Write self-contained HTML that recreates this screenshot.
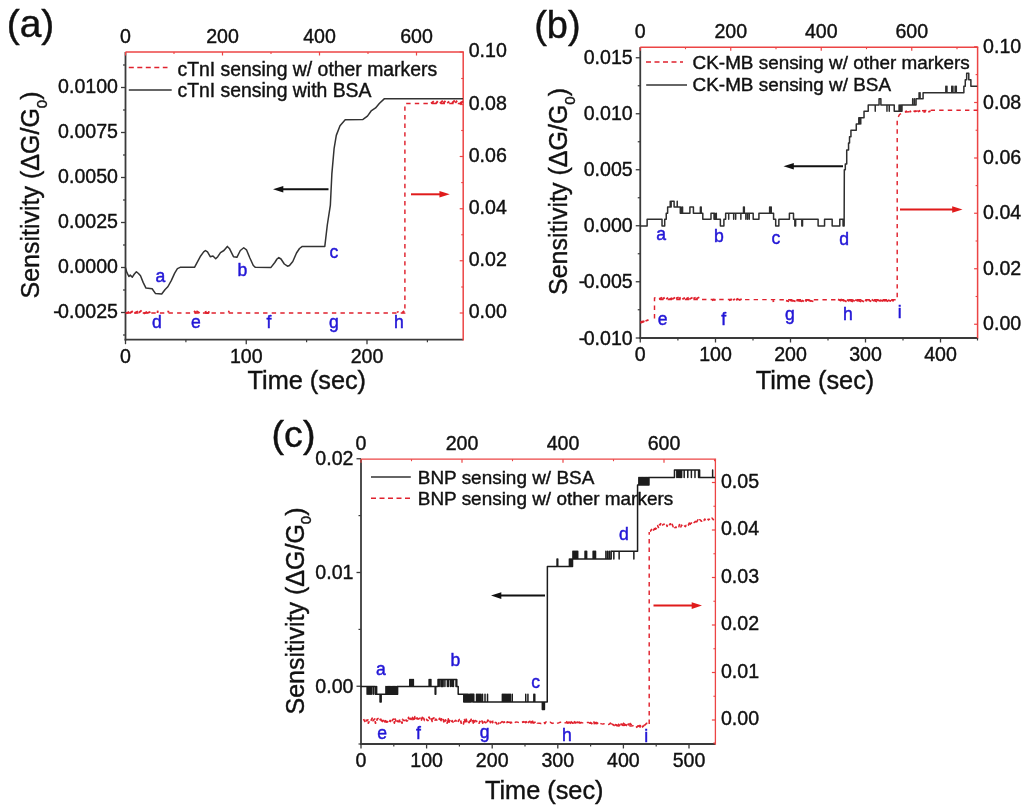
<!DOCTYPE html>
<html lang="en"><head><meta charset="utf-8"><title>Sensing figure</title>
<style>
html,body{margin:0;padding:0;background:#fff;}
body{width:1024px;height:810px;overflow:hidden;}
svg{display:block;font-family:"Liberation Sans",Arial,sans-serif;}
</style></head><body>
<svg width="1024" height="810" viewBox="0 0 1024 810">
<rect width="1024" height="810" fill="#fff"/>
<g>
<line x1="125.5" y1="52" x2="125.5" y2="340.6" stroke="#3a3a3a" stroke-width="1.8"/>
<line x1="124.6" y1="339.7" x2="463.2" y2="339.7" stroke="#3a3a3a" stroke-width="1.8"/>
<line x1="125.5" y1="52" x2="463.9" y2="52" stroke="#ec4444" stroke-width="1.5"/>
<line x1="463.2" y1="52" x2="463.2" y2="340.4" stroke="#ec4444" stroke-width="1.5"/>
<line x1="121" y1="87.5" x2="125.5" y2="87.5" stroke="#3a3a3a" stroke-width="1.3"/>
<text x="118" y="93.1" font-size="19.6" text-anchor="end" fill="#111" stroke="#111" stroke-width="0.4">0.0100</text>
<line x1="121" y1="132.5" x2="125.5" y2="132.5" stroke="#3a3a3a" stroke-width="1.3"/>
<text x="118" y="138.1" font-size="19.6" text-anchor="end" fill="#111" stroke="#111" stroke-width="0.4">0.0075</text>
<line x1="121" y1="177.5" x2="125.5" y2="177.5" stroke="#3a3a3a" stroke-width="1.3"/>
<text x="118" y="183.1" font-size="19.6" text-anchor="end" fill="#111" stroke="#111" stroke-width="0.4">0.0050</text>
<line x1="121" y1="222.5" x2="125.5" y2="222.5" stroke="#3a3a3a" stroke-width="1.3"/>
<text x="118" y="228.1" font-size="19.6" text-anchor="end" fill="#111" stroke="#111" stroke-width="0.4">0.0025</text>
<line x1="121" y1="267.5" x2="125.5" y2="267.5" stroke="#3a3a3a" stroke-width="1.3"/>
<text x="118" y="273.1" font-size="19.6" text-anchor="end" fill="#111" stroke="#111" stroke-width="0.4">0.0000</text>
<line x1="121" y1="312.5" x2="125.5" y2="312.5" stroke="#3a3a3a" stroke-width="1.3"/>
<text x="118" y="318.1" font-size="19.6" text-anchor="end" fill="#111" stroke="#111" stroke-width="0.4">-<tspan dx="-1.6">0.0025</tspan></text>
<line x1="123" y1="65" x2="125.5" y2="65" stroke="#3a3a3a" stroke-width="1.2"/>
<line x1="123" y1="110" x2="125.5" y2="110" stroke="#3a3a3a" stroke-width="1.2"/>
<line x1="123" y1="155" x2="125.5" y2="155" stroke="#3a3a3a" stroke-width="1.2"/>
<line x1="123" y1="200" x2="125.5" y2="200" stroke="#3a3a3a" stroke-width="1.2"/>
<line x1="123" y1="245" x2="125.5" y2="245" stroke="#3a3a3a" stroke-width="1.2"/>
<line x1="123" y1="290" x2="125.5" y2="290" stroke="#3a3a3a" stroke-width="1.2"/>
<line x1="123" y1="335" x2="125.5" y2="335" stroke="#3a3a3a" stroke-width="1.2"/>
<line x1="125.5" y1="339.7" x2="125.5" y2="344.2" stroke="#3a3a3a" stroke-width="1.3"/>
<text x="125.5" y="362.7" font-size="19.6" text-anchor="middle" fill="#111" stroke="#111" stroke-width="0.4">0</text>
<line x1="246.25" y1="339.7" x2="246.25" y2="344.2" stroke="#3a3a3a" stroke-width="1.3"/>
<text x="246.25" y="362.7" font-size="19.6" text-anchor="middle" fill="#111" stroke="#111" stroke-width="0.4">100</text>
<line x1="367" y1="339.7" x2="367" y2="344.2" stroke="#3a3a3a" stroke-width="1.3"/>
<text x="367" y="362.7" font-size="19.6" text-anchor="middle" fill="#111" stroke="#111" stroke-width="0.4">200</text>
<line x1="185.9" y1="339.7" x2="185.9" y2="342.2" stroke="#3a3a3a" stroke-width="1.2"/>
<line x1="306.6" y1="339.7" x2="306.6" y2="342.2" stroke="#3a3a3a" stroke-width="1.2"/>
<line x1="427.4" y1="339.7" x2="427.4" y2="342.2" stroke="#3a3a3a" stroke-width="1.2"/>
<line x1="125.5" y1="52" x2="125.5" y2="55.5" stroke="#ec4444" stroke-width="1.2"/>
<text x="125.5" y="42.5" font-size="19.6" text-anchor="middle" fill="#111" stroke="#111" stroke-width="0.4">0</text>
<line x1="222.5" y1="52" x2="222.5" y2="55.5" stroke="#ec4444" stroke-width="1.2"/>
<text x="222.5" y="42.5" font-size="19.6" text-anchor="middle" fill="#111" stroke="#111" stroke-width="0.4">200</text>
<line x1="319.5" y1="52" x2="319.5" y2="55.5" stroke="#ec4444" stroke-width="1.2"/>
<text x="319.5" y="42.5" font-size="19.6" text-anchor="middle" fill="#111" stroke="#111" stroke-width="0.4">400</text>
<line x1="416.5" y1="52" x2="416.5" y2="55.5" stroke="#ec4444" stroke-width="1.2"/>
<text x="416.5" y="42.5" font-size="19.6" text-anchor="middle" fill="#111" stroke="#111" stroke-width="0.4">600</text>
<line x1="174" y1="52" x2="174" y2="54" stroke="#ec4444" stroke-width="1.1"/>
<line x1="271" y1="52" x2="271" y2="54" stroke="#ec4444" stroke-width="1.1"/>
<line x1="368" y1="52" x2="368" y2="54" stroke="#ec4444" stroke-width="1.1"/>
<line x1="459.7" y1="52" x2="463.2" y2="52" stroke="#ec4444" stroke-width="1.2"/>
<text x="468.7" y="57.4" font-size="19.6" text-anchor="start" fill="#111" stroke="#111" stroke-width="0.4">0.10</text>
<line x1="459.7" y1="104.5" x2="463.2" y2="104.5" stroke="#ec4444" stroke-width="1.2"/>
<text x="468.7" y="109.9" font-size="19.6" text-anchor="start" fill="#111" stroke="#111" stroke-width="0.4">0.08</text>
<line x1="459.7" y1="156.5" x2="463.2" y2="156.5" stroke="#ec4444" stroke-width="1.2"/>
<text x="468.7" y="161.9" font-size="19.6" text-anchor="start" fill="#111" stroke="#111" stroke-width="0.4">0.06</text>
<line x1="459.7" y1="208.75" x2="463.2" y2="208.75" stroke="#ec4444" stroke-width="1.2"/>
<text x="468.7" y="214.15" font-size="19.6" text-anchor="start" fill="#111" stroke="#111" stroke-width="0.4">0.04</text>
<line x1="459.7" y1="260.75" x2="463.2" y2="260.75" stroke="#ec4444" stroke-width="1.2"/>
<text x="468.7" y="266.15" font-size="19.6" text-anchor="start" fill="#111" stroke="#111" stroke-width="0.4">0.02</text>
<line x1="459.7" y1="313" x2="463.2" y2="313" stroke="#ec4444" stroke-width="1.2"/>
<text x="468.7" y="318.4" font-size="19.6" text-anchor="start" fill="#111" stroke="#111" stroke-width="0.4">0.00</text>
<line x1="461.2" y1="78.5" x2="463.2" y2="78.5" stroke="#ec4444" stroke-width="1.1"/>
<line x1="461.2" y1="130.5" x2="463.2" y2="130.5" stroke="#ec4444" stroke-width="1.1"/>
<line x1="461.2" y1="182.6" x2="463.2" y2="182.6" stroke="#ec4444" stroke-width="1.1"/>
<line x1="461.2" y1="234.75" x2="463.2" y2="234.75" stroke="#ec4444" stroke-width="1.1"/>
<line x1="461.2" y1="287" x2="463.2" y2="287" stroke="#ec4444" stroke-width="1.1"/>
<text x="6.7" y="37" font-size="39" text-anchor="start" fill="#111" stroke="#111" stroke-width="0.4">(a)</text>
<text x="306.8" y="389.2" font-size="25.3" text-anchor="middle" fill="#111" stroke="#111" stroke-width="0.4">Time (sec)</text>
<text transform="translate(39 195) rotate(-90)" font-size="25" text-anchor="middle" fill="#111" stroke="#111" stroke-width="0.4">Sensitivity (ΔG/G<tspan font-size="15" dy="7.5">0</tspan><tspan dy="-7.5">)</tspan></text>
<line x1="128.8" y1="67.5" x2="167.5" y2="67.5" stroke="#e0222e" stroke-width="1.5" stroke-dasharray="5 3.5"/>
<text x="177.5" y="75.7" font-size="19.4" text-anchor="start" fill="#111" stroke="#111" stroke-width="0.4">cTnI sensing w/ other markers</text>
<line x1="128.8" y1="90" x2="171.7" y2="90" stroke="#333" stroke-width="1.5"/>
<text x="177.5" y="97.2" font-size="19.4" text-anchor="start" fill="#111" stroke="#111" stroke-width="0.4">cTnI sensing with BSA</text>
<line x1="328.5" y1="189.3" x2="281.24" y2="189.3" stroke="#111" stroke-width="2"/>
<polygon points="273,189.3 283.3,186 283.3,192.6" fill="#111"/>
<line x1="411" y1="194.3" x2="441.51" y2="194.3" stroke="#e01b1b" stroke-width="2"/>
<polygon points="449.75,194.3 439.45,191 439.45,197.6" fill="#e01b1b"/>
<text x="160.5" y="282" font-size="17.6" text-anchor="middle" fill="#2216d6" stroke="#2216d6" stroke-width="0.4" style="stroke-width:0.45">a</text>
<text x="242.5" y="276" font-size="17.6" text-anchor="middle" fill="#2216d6" stroke="#2216d6" stroke-width="0.4" style="stroke-width:0.45">b</text>
<text x="334" y="257.5" font-size="17.6" text-anchor="middle" fill="#2216d6" stroke="#2216d6" stroke-width="0.4" style="stroke-width:0.45">c</text>
<text x="157" y="328" font-size="17.6" text-anchor="middle" fill="#2216d6" stroke="#2216d6" stroke-width="0.4" style="stroke-width:0.45">d</text>
<text x="196" y="328" font-size="17.6" text-anchor="middle" fill="#2216d6" stroke="#2216d6" stroke-width="0.4" style="stroke-width:0.45">e</text>
<text x="269" y="328" font-size="17.6" text-anchor="middle" fill="#2216d6" stroke="#2216d6" stroke-width="0.4" style="stroke-width:0.45">f</text>
<text x="334" y="328" font-size="17.6" text-anchor="middle" fill="#2216d6" stroke="#2216d6" stroke-width="0.4" style="stroke-width:0.45">g</text>
<text x="399" y="328" font-size="17.6" text-anchor="middle" fill="#2216d6" stroke="#2216d6" stroke-width="0.4" style="stroke-width:0.45">h</text>
<path d="M125.5 313 L404.9 313 L404.9 103.5 L463 103.5" fill="none" stroke="#e0222e" stroke-width="1.45" stroke-dasharray="4.4 4.2" stroke-linejoin="round"/>
<path d="M126 313.48 L129.25 311.91" fill="none" stroke="#e0222e" stroke-width="1.9" stroke-linejoin="round"/>
<path d="M129.77 313.16 L132.85 311.1" fill="none" stroke="#e0222e" stroke-width="1.9" stroke-linejoin="round"/>
<path d="M134.69 312.82 L138.05 311.31" fill="none" stroke="#e0222e" stroke-width="1.9" stroke-linejoin="round"/>
<path d="M138.85 312.8 L141.62 310.37" fill="none" stroke="#e0222e" stroke-width="1.9" stroke-linejoin="round"/>
<path d="M143.63 313.56 L147.08 311.86" fill="none" stroke="#e0222e" stroke-width="1.9" stroke-linejoin="round"/>
<path d="M146.92 313.23 L150.43 311.82" fill="none" stroke="#e0222e" stroke-width="1.9" stroke-linejoin="round"/>
<path d="M157.5 313 L157.8 310.6" fill="none" stroke="#e0222e" stroke-width="1.9" stroke-linejoin="round"/>
<path d="M168 312.5 L168.6 310.8" fill="none" stroke="#e0222e" stroke-width="1.9" stroke-linejoin="round"/>
<path d="M194 311.05 L196.33 313.16" fill="none" stroke="#e0222e" stroke-width="1.9" stroke-linejoin="round"/>
<path d="M196.38 311.01 L199.69 312.99" fill="none" stroke="#e0222e" stroke-width="1.9" stroke-linejoin="round"/>
<path d="M205.5 311 L206 313 L208.5 313 L209 311.3" fill="none" stroke="#e0222e" stroke-width="1.9" stroke-linejoin="round"/>
<path d="M228 311.3 L229.6 311.8" fill="none" stroke="#e0222e" stroke-width="1.9" stroke-linejoin="round"/>
<path d="M397.5 311.2 L398 312.6" fill="none" stroke="#e0222e" stroke-width="1.9" stroke-linejoin="round"/>
<path d="M402.3 312.8 L404.2 311" fill="none" stroke="#e0222e" stroke-width="1.9" stroke-linejoin="round"/>
<path d="M431 103.49 L433.85 101.16" fill="none" stroke="#e0222e" stroke-width="1.9" stroke-linejoin="round"/>
<path d="M435.88 103.64 L437.74 101.13" fill="none" stroke="#e0222e" stroke-width="1.9" stroke-linejoin="round"/>
<path d="M439.82 103.42 L442.81 100.62" fill="none" stroke="#e0222e" stroke-width="1.9" stroke-linejoin="round"/>
<path d="M443.04 103.1 L445.57 100.98" fill="none" stroke="#e0222e" stroke-width="1.9" stroke-linejoin="round"/>
<path d="M447.19 103.07 L449.37 101.61" fill="none" stroke="#e0222e" stroke-width="1.9" stroke-linejoin="round"/>
<path d="M452.02 103.03 L454.88 100.49" fill="none" stroke="#e0222e" stroke-width="1.9" stroke-linejoin="round"/>
<path d="M455.3 103 L457.12 100.67" fill="none" stroke="#e0222e" stroke-width="1.9" stroke-linejoin="round"/>
<path d="M460.04 103.07 L463.14 101.33" fill="none" stroke="#e0222e" stroke-width="1.9" stroke-linejoin="round"/>
<path d="M125.47 267.6 L126.84 272.38 L128.89 276.49 L130.25 275.12 L132.31 277.17 L134.36 274.03 L136.41 271.7 L138.46 273.48 L140.51 275.8 L143.24 282.64 L145.98 288.11 L152.13 288.79 L155.55 293.58 L161.7 293.99 L165.12 289.47 L167.85 286.74 L171.27 280.59 L174.69 273.07 L177.42 268.56 L180.16 267.33 L194.51 267.33 L200.67 255.98 L203.68 251.88 L205.45 250.51 L207.5 251.88 L210.24 256.66 L212.97 255.98 L215.71 258.71 L217.76 256.66 L220.49 252.56 L223.91 250.51 L227.33 246.41 L229.38 248.46 L233.48 256.66 L236.9 257.34 L240.32 250.51 L243.74 247.77 L246.47 249.82 L249.89 258.03 L253.31 265.55 L255.36 267.33 L271 267.4 L274.8 262.5 L277 259 L278.8 257.6 L281 259 L284.3 264 L287.5 266.2 L289.5 265.5 L292.8 261.5 L296.5 253 L299.5 248.5 L302.3 246.4 L324.8 246.4 L327.3 225 L330.37 205.05 L331.86 173.93 L334.08 148.73 L336.3 135.39 L340.01 125.76 L345.2 119.83 L362.98 119.39 L367.43 116.12 L371.13 110.94 L375.58 107.97 L379.29 103.53 L384.47 98.64 L463.03 98.64" fill="none" stroke="#333" stroke-width="1.5" stroke-linejoin="round"/>
</g>
<g>
<line x1="640.25" y1="47.2" x2="640.25" y2="338.9" stroke="#3a3a3a" stroke-width="1.8"/>
<line x1="639.35" y1="338" x2="977.6" y2="338" stroke="#3a3a3a" stroke-width="1.8"/>
<line x1="640.25" y1="47.2" x2="978.3" y2="47.2" stroke="#ec4444" stroke-width="1.5"/>
<line x1="977.6" y1="47.2" x2="977.6" y2="338.7" stroke="#ec4444" stroke-width="1.5"/>
<line x1="635.75" y1="57.75" x2="640.25" y2="57.75" stroke="#3a3a3a" stroke-width="1.3"/>
<text x="632.75" y="64.25" font-size="19.6" text-anchor="end" fill="#111" stroke="#111" stroke-width="0.4">0.015</text>
<line x1="635.75" y1="113.75" x2="640.25" y2="113.75" stroke="#3a3a3a" stroke-width="1.3"/>
<text x="632.75" y="120.25" font-size="19.6" text-anchor="end" fill="#111" stroke="#111" stroke-width="0.4">0.010</text>
<line x1="635.75" y1="169.75" x2="640.25" y2="169.75" stroke="#3a3a3a" stroke-width="1.3"/>
<text x="632.75" y="176.25" font-size="19.6" text-anchor="end" fill="#111" stroke="#111" stroke-width="0.4">0.005</text>
<line x1="635.75" y1="225.75" x2="640.25" y2="225.75" stroke="#3a3a3a" stroke-width="1.3"/>
<text x="632.75" y="232.25" font-size="19.6" text-anchor="end" fill="#111" stroke="#111" stroke-width="0.4">0.000</text>
<line x1="635.75" y1="281.75" x2="640.25" y2="281.75" stroke="#3a3a3a" stroke-width="1.3"/>
<text x="632.75" y="288.25" font-size="19.6" text-anchor="end" fill="#111" stroke="#111" stroke-width="0.4">-<tspan dx="-1.6">0.005</tspan></text>
<line x1="635.75" y1="338" x2="640.25" y2="338" stroke="#3a3a3a" stroke-width="1.3"/>
<text x="632.75" y="344.5" font-size="19.6" text-anchor="end" fill="#111" stroke="#111" stroke-width="0.4">-<tspan dx="-1.6">0.010</tspan></text>
<line x1="637.75" y1="85.75" x2="640.25" y2="85.75" stroke="#3a3a3a" stroke-width="1.2"/>
<line x1="637.75" y1="141.75" x2="640.25" y2="141.75" stroke="#3a3a3a" stroke-width="1.2"/>
<line x1="637.75" y1="197.75" x2="640.25" y2="197.75" stroke="#3a3a3a" stroke-width="1.2"/>
<line x1="637.75" y1="253.75" x2="640.25" y2="253.75" stroke="#3a3a3a" stroke-width="1.2"/>
<line x1="637.75" y1="309.75" x2="640.25" y2="309.75" stroke="#3a3a3a" stroke-width="1.2"/>
<line x1="640.25" y1="338" x2="640.25" y2="342.5" stroke="#3a3a3a" stroke-width="1.3"/>
<text x="640.25" y="361" font-size="19.6" text-anchor="middle" fill="#111" stroke="#111" stroke-width="0.4">0</text>
<line x1="715.5" y1="338" x2="715.5" y2="342.5" stroke="#3a3a3a" stroke-width="1.3"/>
<text x="715.5" y="361" font-size="19.6" text-anchor="middle" fill="#111" stroke="#111" stroke-width="0.4">100</text>
<line x1="790.5" y1="338" x2="790.5" y2="342.5" stroke="#3a3a3a" stroke-width="1.3"/>
<text x="790.5" y="361" font-size="19.6" text-anchor="middle" fill="#111" stroke="#111" stroke-width="0.4">200</text>
<line x1="865.5" y1="338" x2="865.5" y2="342.5" stroke="#3a3a3a" stroke-width="1.3"/>
<text x="865.5" y="361" font-size="19.6" text-anchor="middle" fill="#111" stroke="#111" stroke-width="0.4">300</text>
<line x1="940.5" y1="338" x2="940.5" y2="342.5" stroke="#3a3a3a" stroke-width="1.3"/>
<text x="940.5" y="361" font-size="19.6" text-anchor="middle" fill="#111" stroke="#111" stroke-width="0.4">400</text>
<line x1="677.9" y1="338" x2="677.9" y2="340.5" stroke="#3a3a3a" stroke-width="1.2"/>
<line x1="753" y1="338" x2="753" y2="340.5" stroke="#3a3a3a" stroke-width="1.2"/>
<line x1="828" y1="338" x2="828" y2="340.5" stroke="#3a3a3a" stroke-width="1.2"/>
<line x1="903" y1="338" x2="903" y2="340.5" stroke="#3a3a3a" stroke-width="1.2"/>
<line x1="977.5" y1="338" x2="977.5" y2="340.5" stroke="#3a3a3a" stroke-width="1.2"/>
<line x1="640.25" y1="47.2" x2="640.25" y2="50.7" stroke="#ec4444" stroke-width="1.2"/>
<text x="640.25" y="38.3" font-size="19.6" text-anchor="middle" fill="#111" stroke="#111" stroke-width="0.4">0</text>
<line x1="730.75" y1="47.2" x2="730.75" y2="50.7" stroke="#ec4444" stroke-width="1.2"/>
<text x="730.75" y="38.3" font-size="19.6" text-anchor="middle" fill="#111" stroke="#111" stroke-width="0.4">200</text>
<line x1="821.25" y1="47.2" x2="821.25" y2="50.7" stroke="#ec4444" stroke-width="1.2"/>
<text x="821.25" y="38.3" font-size="19.6" text-anchor="middle" fill="#111" stroke="#111" stroke-width="0.4">400</text>
<line x1="911.75" y1="47.2" x2="911.75" y2="50.7" stroke="#ec4444" stroke-width="1.2"/>
<text x="911.75" y="38.3" font-size="19.6" text-anchor="middle" fill="#111" stroke="#111" stroke-width="0.4">600</text>
<line x1="685.5" y1="47.2" x2="685.5" y2="49.2" stroke="#ec4444" stroke-width="1.1"/>
<line x1="776" y1="47.2" x2="776" y2="49.2" stroke="#ec4444" stroke-width="1.1"/>
<line x1="866.5" y1="47.2" x2="866.5" y2="49.2" stroke="#ec4444" stroke-width="1.1"/>
<line x1="957" y1="47.2" x2="957" y2="49.2" stroke="#ec4444" stroke-width="1.1"/>
<line x1="974.1" y1="46.75" x2="977.6" y2="46.75" stroke="#ec4444" stroke-width="1.2"/>
<text x="983.1" y="52.75" font-size="19.6" text-anchor="start" fill="#111" stroke="#111" stroke-width="0.4">0.10</text>
<line x1="974.1" y1="102.5" x2="977.6" y2="102.5" stroke="#ec4444" stroke-width="1.2"/>
<text x="983.1" y="108.5" font-size="19.6" text-anchor="start" fill="#111" stroke="#111" stroke-width="0.4">0.08</text>
<line x1="974.1" y1="158" x2="977.6" y2="158" stroke="#ec4444" stroke-width="1.2"/>
<text x="983.1" y="164" font-size="19.6" text-anchor="start" fill="#111" stroke="#111" stroke-width="0.4">0.06</text>
<line x1="974.1" y1="213.25" x2="977.6" y2="213.25" stroke="#ec4444" stroke-width="1.2"/>
<text x="983.1" y="219.25" font-size="19.6" text-anchor="start" fill="#111" stroke="#111" stroke-width="0.4">0.04</text>
<line x1="974.1" y1="268.75" x2="977.6" y2="268.75" stroke="#ec4444" stroke-width="1.2"/>
<text x="983.1" y="274.75" font-size="19.6" text-anchor="start" fill="#111" stroke="#111" stroke-width="0.4">0.02</text>
<line x1="974.1" y1="324.25" x2="977.6" y2="324.25" stroke="#ec4444" stroke-width="1.2"/>
<text x="983.1" y="330.25" font-size="19.6" text-anchor="start" fill="#111" stroke="#111" stroke-width="0.4">0.00</text>
<line x1="975.6" y1="74.6" x2="977.6" y2="74.6" stroke="#ec4444" stroke-width="1.1"/>
<line x1="975.6" y1="130.25" x2="977.6" y2="130.25" stroke="#ec4444" stroke-width="1.1"/>
<line x1="975.6" y1="185.6" x2="977.6" y2="185.6" stroke="#ec4444" stroke-width="1.1"/>
<line x1="975.6" y1="241" x2="977.6" y2="241" stroke="#ec4444" stroke-width="1.1"/>
<line x1="975.6" y1="296.5" x2="977.6" y2="296.5" stroke="#ec4444" stroke-width="1.1"/>
<text x="534.2" y="37.5" font-size="38" text-anchor="start" fill="#111" stroke="#111" stroke-width="0.4">(b)</text>
<text x="815" y="389.3" font-size="25.3" text-anchor="middle" fill="#111" stroke="#111" stroke-width="0.4">Time (sec)</text>
<text transform="translate(567 191.5) rotate(-90)" font-size="25" text-anchor="middle" fill="#111" stroke="#111" stroke-width="0.4">Sensitivity (ΔG/G<tspan font-size="15" dy="7.5">0</tspan><tspan dy="-7.5">)</tspan></text>
<line x1="646" y1="62" x2="683" y2="62" stroke="#e0222e" stroke-width="1.5" stroke-dasharray="5 3.5"/>
<text x="692.6" y="69.3" font-size="18.9" text-anchor="start" fill="#111" stroke="#111" stroke-width="0.4">CK-MB sensing w/ other markers</text>
<line x1="646.2" y1="85" x2="687" y2="85" stroke="#333" stroke-width="1.5"/>
<text x="692.6" y="90.9" font-size="18.9" text-anchor="start" fill="#111" stroke="#111" stroke-width="0.4">CK-MB sensing w/ BSA</text>
<line x1="843" y1="166.25" x2="791.74" y2="166.25" stroke="#111" stroke-width="2"/>
<polygon points="783.5,166.25 793.8,162.95 793.8,169.55" fill="#111"/>
<line x1="900" y1="209.5" x2="954.26" y2="209.5" stroke="#e01b1b" stroke-width="2"/>
<polygon points="962.5,209.5 952.2,206.2 952.2,212.8" fill="#e01b1b"/>
<text x="661.25" y="239.5" font-size="17.6" text-anchor="middle" fill="#2216d6" stroke="#2216d6" stroke-width="0.4" style="stroke-width:0.45">a</text>
<text x="719" y="242" font-size="17.6" text-anchor="middle" fill="#2216d6" stroke="#2216d6" stroke-width="0.4" style="stroke-width:0.45">b</text>
<text x="776" y="243.5" font-size="17.6" text-anchor="middle" fill="#2216d6" stroke="#2216d6" stroke-width="0.4" style="stroke-width:0.45">c</text>
<text x="844.25" y="244.5" font-size="17.6" text-anchor="middle" fill="#2216d6" stroke="#2216d6" stroke-width="0.4" style="stroke-width:0.45">d</text>
<text x="662.75" y="325" font-size="17.6" text-anchor="middle" fill="#2216d6" stroke="#2216d6" stroke-width="0.4" style="stroke-width:0.45">e</text>
<text x="723.75" y="325" font-size="17.6" text-anchor="middle" fill="#2216d6" stroke="#2216d6" stroke-width="0.4" style="stroke-width:0.45">f</text>
<text x="790" y="320" font-size="17.6" text-anchor="middle" fill="#2216d6" stroke="#2216d6" stroke-width="0.4" style="stroke-width:0.45">g</text>
<text x="848" y="320" font-size="17.6" text-anchor="middle" fill="#2216d6" stroke="#2216d6" stroke-width="0.4" style="stroke-width:0.45">h</text>
<text x="899.75" y="317.5" font-size="17.6" text-anchor="middle" fill="#2216d6" stroke="#2216d6" stroke-width="0.4" style="stroke-width:0.45">i</text>
<path d="M654.5 318.5 L654.5 298 L656.5 297.3 L660 299.5 L894 299.8 L897.2 299.8 L897.2 119 L899.5 114.5 L903 112.3 L915 111.2 L932 110.3 L977.5 110.3" fill="none" stroke="#e0222e" stroke-width="1.45" stroke-dasharray="4.4 4.2" stroke-linejoin="round"/>
<path d="M640.5 322.8 L644.5 321.2" fill="none" stroke="#e0222e" stroke-width="1.8" stroke-linejoin="round"/>
<path d="M640.5 322 L643.5 321.5" fill="none" stroke="#e0222e" stroke-width="1.8" stroke-linejoin="round"/>
<path d="M645.5 321 L648.5 319.8" fill="none" stroke="#e0222e" stroke-width="1.8" stroke-linejoin="round"/>
<path d="M659 298.85 L662.25 297.63" fill="none" stroke="#e0222e" stroke-width="1.8" stroke-linejoin="round"/>
<path d="M662.54 298.87 L664.76 297.6" fill="none" stroke="#e0222e" stroke-width="1.8" stroke-linejoin="round"/>
<path d="M666.16 299.03 L668.25 297.67" fill="none" stroke="#e0222e" stroke-width="1.8" stroke-linejoin="round"/>
<path d="M669.41 299.05 L672.34 298.13" fill="none" stroke="#e0222e" stroke-width="1.8" stroke-linejoin="round"/>
<path d="M672.18 299.17 L675.06 297.51" fill="none" stroke="#e0222e" stroke-width="1.8" stroke-linejoin="round"/>
<path d="M675.99 298.41 L678.69 297.44" fill="none" stroke="#e0222e" stroke-width="1.8" stroke-linejoin="round"/>
<path d="M678.8 298.59 L680.8 297.59" fill="none" stroke="#e0222e" stroke-width="1.8" stroke-linejoin="round"/>
<path d="M682.33 299.07 L685.02 297.86" fill="none" stroke="#e0222e" stroke-width="1.8" stroke-linejoin="round"/>
<path d="M686.18 298.93 L688.78 297.67" fill="none" stroke="#e0222e" stroke-width="1.8" stroke-linejoin="round"/>
<path d="M689.38 299.2 L692.52 297.52" fill="none" stroke="#e0222e" stroke-width="1.8" stroke-linejoin="round"/>
<path d="M693.36 298.58 L695.72 297.48" fill="none" stroke="#e0222e" stroke-width="1.8" stroke-linejoin="round"/>
<path d="M696.19 298.72 L699.33 297.24" fill="none" stroke="#e0222e" stroke-width="1.8" stroke-linejoin="round"/>
<path d="M712 300.43 L714.07 299.36" fill="none" stroke="#e0222e" stroke-width="1.8" stroke-linejoin="round"/>
<path d="M714.05 300.2 L715.73 299.47" fill="none" stroke="#e0222e" stroke-width="1.8" stroke-linejoin="round"/>
<path d="M729 300.35 L731.71 299.44" fill="none" stroke="#e0222e" stroke-width="1.8" stroke-linejoin="round"/>
<path d="M732.99 299.98 L735.01 299.13" fill="none" stroke="#e0222e" stroke-width="1.8" stroke-linejoin="round"/>
<path d="M735.93 299.9 L738.44 298.66" fill="none" stroke="#e0222e" stroke-width="1.8" stroke-linejoin="round"/>
<path d="M738.84 300.15 L741.75 299.21" fill="none" stroke="#e0222e" stroke-width="1.8" stroke-linejoin="round"/>
<path d="M773 300.2 L773.6 302" fill="none" stroke="#e0222e" stroke-width="1.8" stroke-linejoin="round"/>
<path d="M786 300.7 L789.08 301.36" fill="none" stroke="#e0222e" stroke-width="1.8" stroke-linejoin="round"/>
<path d="M789.66 300.24 L792.86 301" fill="none" stroke="#e0222e" stroke-width="1.8" stroke-linejoin="round"/>
<path d="M792.9 300.57 L795.59 301.35" fill="none" stroke="#e0222e" stroke-width="1.8" stroke-linejoin="round"/>
<path d="M796.31 300.31 L799.77 300.98" fill="none" stroke="#e0222e" stroke-width="1.8" stroke-linejoin="round"/>
<path d="M799.1 300.69 L802.15 301.44" fill="none" stroke="#e0222e" stroke-width="1.8" stroke-linejoin="round"/>
<path d="M801.58 300.4 L803.92 301.33" fill="none" stroke="#e0222e" stroke-width="1.8" stroke-linejoin="round"/>
<path d="M804.8 300.4 L807.03 301.07" fill="none" stroke="#e0222e" stroke-width="1.8" stroke-linejoin="round"/>
<path d="M807.36 299.94 L810.95 301.12" fill="none" stroke="#e0222e" stroke-width="1.8" stroke-linejoin="round"/>
<path d="M810.27 300.53 L813.4 301.5" fill="none" stroke="#e0222e" stroke-width="1.8" stroke-linejoin="round"/>
<path d="M838 299.38 L841.42 300.91" fill="none" stroke="#e0222e" stroke-width="1.8" stroke-linejoin="round"/>
<path d="M840.57 299.36 L844.22 300.91" fill="none" stroke="#e0222e" stroke-width="1.8" stroke-linejoin="round"/>
<path d="M843.95 300.25 L846.57 301.7" fill="none" stroke="#e0222e" stroke-width="1.8" stroke-linejoin="round"/>
<path d="M846.8 299.79 L849.46 301.12" fill="none" stroke="#e0222e" stroke-width="1.8" stroke-linejoin="round"/>
<path d="M849.48 300.15 L853 301.6" fill="none" stroke="#e0222e" stroke-width="1.8" stroke-linejoin="round"/>
<path d="M852.15 299.81 L854.76 301.31" fill="none" stroke="#e0222e" stroke-width="1.8" stroke-linejoin="round"/>
<path d="M855.18 299.86 L858.33 300.96" fill="none" stroke="#e0222e" stroke-width="1.8" stroke-linejoin="round"/>
<path d="M858.06 300.42 L861.34 301.64" fill="none" stroke="#e0222e" stroke-width="1.8" stroke-linejoin="round"/>
<path d="M861.02 300.24 L864.04 301.7" fill="none" stroke="#e0222e" stroke-width="1.8" stroke-linejoin="round"/>
<path d="M864.81 300.22 L867.32 301.01" fill="none" stroke="#e0222e" stroke-width="1.8" stroke-linejoin="round"/>
<path d="M868.59 300.16 L871.28 301.48" fill="none" stroke="#e0222e" stroke-width="1.8" stroke-linejoin="round"/>
<path d="M871.68 299.51 L874.1 300.98" fill="none" stroke="#e0222e" stroke-width="1.8" stroke-linejoin="round"/>
<path d="M874.08 300.43 L877.21 301.57" fill="none" stroke="#e0222e" stroke-width="1.8" stroke-linejoin="round"/>
<path d="M877.02 299.87 L880.78 301.04" fill="none" stroke="#e0222e" stroke-width="1.8" stroke-linejoin="round"/>
<path d="M879.9 300.19 L883.46 301.15" fill="none" stroke="#e0222e" stroke-width="1.8" stroke-linejoin="round"/>
<path d="M882.72 299.68 L885.66 301.17" fill="none" stroke="#e0222e" stroke-width="1.8" stroke-linejoin="round"/>
<path d="M885.16 300.05 L888.16 301.54" fill="none" stroke="#e0222e" stroke-width="1.8" stroke-linejoin="round"/>
<path d="M887.66 300.04 L891.24 301.2" fill="none" stroke="#e0222e" stroke-width="1.8" stroke-linejoin="round"/>
<path d="M891.42 299.77 L893.73 301.13" fill="none" stroke="#e0222e" stroke-width="1.8" stroke-linejoin="round"/>
<path d="M905 111.78 L907 110.97" fill="none" stroke="#e0222e" stroke-width="1.8" stroke-linejoin="round"/>
<path d="M909.38 111.93 L911.2 111.08" fill="none" stroke="#e0222e" stroke-width="1.8" stroke-linejoin="round"/>
<path d="M914.18 111.64 L916.09 111.04" fill="none" stroke="#e0222e" stroke-width="1.8" stroke-linejoin="round"/>
<path d="M917.88 111.65 L920.29 110.6" fill="none" stroke="#e0222e" stroke-width="1.8" stroke-linejoin="round"/>
<path d="M923.4 112.11 L925.83 111.36" fill="none" stroke="#e0222e" stroke-width="1.8" stroke-linejoin="round"/>
<path d="M928.28 111.77 L930.51 111.15" fill="none" stroke="#e0222e" stroke-width="1.8" stroke-linejoin="round"/>
<path d="M640.1 226.1 L647.13 226.1 L647.13 219.3 L662.02 219.3 L662.02 226.1 L664.71 226.1 L664.71 219.3 L666.24 219.3 L666.24 213.2 L667.64 213.2 L667.64 206.99 L669.4 206.99 L669.4 206.99 L670.25 206.99 L670.25 201.13 L670.25 206.99 L671.16 206.99 L671.16 201.13 L674.09 201.13 L674.09 206.99 L676.43 206.99 L676.43 206.99 L677.23 206.99 L677.23 201.13 L677.23 206.99 L678.78 206.99 L678.78 206.99 L680.3 206.99 L680.3 213.2 L681.05 213.2 L681.05 206.99 L681.05 213.2 L682.55 213.2 L682.55 206.99 L682.55 213.2 L682.88 213.2 L682.88 213.2 L689.91 213.2 L689.91 206.99 L693.42 206.99 L693.42 213.2 L699.99 213.2 L699.99 213.2 L700.39 213.2 L700.39 206.99 L700.39 213.2 L701.19 213.2 L701.19 206.99 L701.19 213.2 L701.28 213.2 L701.28 213.2 L702.8 213.2 L702.8 219.3 L711 219.3 L711 213.2 L714.05 213.2 L714.05 219.3 L714.8 219.3 L714.8 213.2 L714.8 219.3 L716.3 219.3 L716.3 213.2 L716.3 219.3 L716.86 219.3 L716.86 219.3 L720.38 219.3 L720.38 226.1 L723.89 226.1 L723.89 219.3 L725.65 219.3 L725.65 213.2 L727.76 213.2 L727.76 213.2 L728.71 213.2 L728.71 219.3 L728.71 213.2 L729.99 213.2 L729.99 213.2 L732.68 213.2 L732.68 213.2 L733.68 213.2 L733.68 219.3 L733.68 213.2 L735.68 213.2 L735.68 219.3 L735.68 213.2 L735.85 213.2 L735.85 213.2 L740.07 213.2 L740.07 213.2 L740.87 213.2 L740.87 219.3 L740.87 213.2 L742.29 213.2 L742.29 213.2 L743.11 213.2 L743.11 213.2 L743.51 213.2 L743.51 206.99 L743.51 213.2 L744.31 213.2 L744.31 206.99 L744.31 213.2 L744.99 213.2 L744.99 213.2 L745.84 213.2 L745.84 219.3 L745.84 213.2 L747.54 213.2 L747.54 219.3 L747.54 213.2 L749.24 213.2 L749.24 219.3 L749.24 213.2 L749.68 213.2 L749.68 213.2 L753.19 213.2 L753.19 219.3 L756 219.3 L756 219.3 L758.93 219.3 L758.93 213.2 L769.24 213.2 L769.24 213.2 L769.64 213.2 L769.64 206.99 L769.64 213.2 L770.44 213.2 L770.44 206.99 L770.44 213.2 L771.24 213.2 L771.24 206.99 L771.24 213.2 L771.82 213.2 L771.82 213.2 L773.58 213.2 L773.58 219.3 L775.69 219.3 L775.69 226.1 L778.85 226.1 L778.85 219.3 L789.4 219.3 L789.4 213.2 L793.5 213.2 L793.5 219.3 L794.44 219.3 L794.44 219.3 L794.84 219.3 L794.84 226.1 L794.84 219.3 L795.64 219.3 L795.64 226.1 L795.64 219.3 L796.43 219.3 L796.43 219.3 L801.47 219.3 L801.47 219.3 L801.82 219.3 L801.82 226.1 L801.82 219.3 L802.52 219.3 L802.52 226.1 L802.52 219.3 L802.88 219.3 L802.88 219.3 L818.11 219.3 L818.11 226.1 L824.56 226.1 L824.56 219.3 L832.17 219.3 L832.17 226.1 L839.79 226.1 L839.79 219.3 L843.07 219.3 L843.07 226.1 L844.13 226.1 L844.33 169.69 L845.31 169.69 L845.31 164.06 L846.72 164.06 L846.72 150 L848.55 150 L848.55 142.97 L849.53 142.97 L849.53 136.64 L850.94 136.64 L850.94 130.31 L856.28 130.31 L856.28 123.99 L858.81 123.99 L858.81 117.66 L859.46 117.66 L859.46 123.99 L859.46 117.66 L860.76 117.66 L860.76 123.99 L860.76 117.66 L861.2 117.66 L861.2 117.66 L864.02 117.66 L864.02 111.33 L868.23 111.33 L868.23 105 L874.84 105 L874.84 105 L875.24 105 L875.24 111.33 L875.24 105 L875.69 105 L875.69 105 L879.06 105 L879.06 98.67 L880.89 98.67 L880.89 105 L885.81 105 L885.81 105 L886.96 105 L886.96 111.33 L886.96 105 L889.26 105 L889.26 111.33 L889.26 105 L891.44 105 L891.44 105 L894.25 105 L894.25 111.33 L898.47 111.33 L898.47 111.33 L899.09 111.33 L899.09 105 L899.09 111.33 L900.34 111.33 L900.34 105 L900.34 111.33 L901.59 111.33 L901.59 105 L901.59 111.33 L901.99 111.33 L901.99 105 L911.83 105 L911.83 105 L912.68 105 L912.68 98.67 L912.68 105 L914.38 105 L914.38 98.67 L914.38 105 L916.05 105 L916.05 98.67 L918.58 98.67 L918.58 98.67 L919.08 98.67 L919.08 92.63 L919.08 98.67 L920.08 98.67 L920.08 92.63 L920.08 98.67 L920.27 98.67 L920.27 98.67 L923.08 98.67 L923.08 92.63 L945.3 92.63 L945.3 92.63 L945.85 92.63 L945.85 86.3 L945.85 92.63 L946.95 92.63 L946.95 86.3 L946.95 92.63 L947.97 92.63 L947.97 92.63 L951.2 92.63 L951.2 92.63 L951.78 92.63 L951.78 86.3 L951.78 92.63 L952.93 92.63 L952.93 86.3 L952.93 92.63 L953.74 92.63 L953.74 92.63 L954.58 92.63 L954.58 92.63 L955.15 92.63 L955.15 86.3 L955.15 92.63 L956.3 92.63 L956.3 86.3 L956.3 92.63 L956.97 92.63 L956.97 92.63 L963.86 92.63 L963.86 86.3 L965.27 86.3 L965.27 79.69 L966.67 79.69 L966.67 73.36 L968.78 73.36 L968.78 79.69 L970.89 79.69 L970.89 86.3 L977.22 86.3" fill="none" stroke="#2e2e2e" stroke-width="1.5" stroke-linejoin="round"/>
</g>
<g>
<line x1="361" y1="459.2" x2="361" y2="744.9" stroke="#3a3a3a" stroke-width="1.8"/>
<line x1="360.1" y1="744" x2="715.4" y2="744" stroke="#3a3a3a" stroke-width="1.8"/>
<line x1="361" y1="459.2" x2="716.1" y2="459.2" stroke="#ec4444" stroke-width="1.3"/>
<line x1="715.4" y1="459.2" x2="715.4" y2="744.7" stroke="#ec4444" stroke-width="1.3"/>
<line x1="356.5" y1="458.75" x2="361" y2="458.75" stroke="#3a3a3a" stroke-width="1.3"/>
<text x="353.5" y="465.35" font-size="19.6" text-anchor="end" fill="#111" stroke="#111" stroke-width="0.4">0.02</text>
<line x1="356.5" y1="572.5" x2="361" y2="572.5" stroke="#3a3a3a" stroke-width="1.3"/>
<text x="353.5" y="579.1" font-size="19.6" text-anchor="end" fill="#111" stroke="#111" stroke-width="0.4">0.01</text>
<line x1="356.5" y1="686.25" x2="361" y2="686.25" stroke="#3a3a3a" stroke-width="1.3"/>
<text x="353.5" y="692.85" font-size="19.6" text-anchor="end" fill="#111" stroke="#111" stroke-width="0.4">0.00</text>
<line x1="358.5" y1="515.6" x2="361" y2="515.6" stroke="#3a3a3a" stroke-width="1.2"/>
<line x1="358.5" y1="629.4" x2="361" y2="629.4" stroke="#3a3a3a" stroke-width="1.2"/>
<line x1="358.5" y1="744" x2="361" y2="744" stroke="#3a3a3a" stroke-width="1.2"/>
<line x1="361" y1="744" x2="361" y2="748.5" stroke="#3a3a3a" stroke-width="1.3"/>
<text x="361" y="767.4" font-size="19.6" text-anchor="middle" fill="#111" stroke="#111" stroke-width="0.4">0</text>
<line x1="426.6" y1="744" x2="426.6" y2="748.5" stroke="#3a3a3a" stroke-width="1.3"/>
<text x="426.6" y="767.4" font-size="19.6" text-anchor="middle" fill="#111" stroke="#111" stroke-width="0.4">100</text>
<line x1="492.2" y1="744" x2="492.2" y2="748.5" stroke="#3a3a3a" stroke-width="1.3"/>
<text x="492.2" y="767.4" font-size="19.6" text-anchor="middle" fill="#111" stroke="#111" stroke-width="0.4">200</text>
<line x1="557.8" y1="744" x2="557.8" y2="748.5" stroke="#3a3a3a" stroke-width="1.3"/>
<text x="557.8" y="767.4" font-size="19.6" text-anchor="middle" fill="#111" stroke="#111" stroke-width="0.4">300</text>
<line x1="623.4" y1="744" x2="623.4" y2="748.5" stroke="#3a3a3a" stroke-width="1.3"/>
<text x="623.4" y="767.4" font-size="19.6" text-anchor="middle" fill="#111" stroke="#111" stroke-width="0.4">400</text>
<line x1="689" y1="744" x2="689" y2="748.5" stroke="#3a3a3a" stroke-width="1.3"/>
<text x="689" y="767.4" font-size="19.6" text-anchor="middle" fill="#111" stroke="#111" stroke-width="0.4">500</text>
<line x1="393.8" y1="744" x2="393.8" y2="746.5" stroke="#3a3a3a" stroke-width="1.2"/>
<line x1="459.4" y1="744" x2="459.4" y2="746.5" stroke="#3a3a3a" stroke-width="1.2"/>
<line x1="525" y1="744" x2="525" y2="746.5" stroke="#3a3a3a" stroke-width="1.2"/>
<line x1="590.6" y1="744" x2="590.6" y2="746.5" stroke="#3a3a3a" stroke-width="1.2"/>
<line x1="656.2" y1="744" x2="656.2" y2="746.5" stroke="#3a3a3a" stroke-width="1.2"/>
<line x1="361" y1="459.2" x2="361" y2="462.7" stroke="#ec4444" stroke-width="1.2"/>
<text x="361" y="450.4" font-size="19.6" text-anchor="middle" fill="#111" stroke="#111" stroke-width="0.4">0</text>
<line x1="462" y1="459.2" x2="462" y2="462.7" stroke="#ec4444" stroke-width="1.2"/>
<text x="462" y="450.4" font-size="19.6" text-anchor="middle" fill="#111" stroke="#111" stroke-width="0.4">200</text>
<line x1="563" y1="459.2" x2="563" y2="462.7" stroke="#ec4444" stroke-width="1.2"/>
<text x="563" y="450.4" font-size="19.6" text-anchor="middle" fill="#111" stroke="#111" stroke-width="0.4">400</text>
<line x1="664" y1="459.2" x2="664" y2="462.7" stroke="#ec4444" stroke-width="1.2"/>
<text x="664" y="450.4" font-size="19.6" text-anchor="middle" fill="#111" stroke="#111" stroke-width="0.4">600</text>
<line x1="411.5" y1="459.2" x2="411.5" y2="461.2" stroke="#ec4444" stroke-width="1.1"/>
<line x1="512.5" y1="459.2" x2="512.5" y2="461.2" stroke="#ec4444" stroke-width="1.1"/>
<line x1="613.5" y1="459.2" x2="613.5" y2="461.2" stroke="#ec4444" stroke-width="1.1"/>
<line x1="714.5" y1="459.2" x2="714.5" y2="461.2" stroke="#ec4444" stroke-width="1.1"/>
<line x1="711.9" y1="482.5" x2="715.4" y2="482.5" stroke="#ec4444" stroke-width="1.2"/>
<text x="720.9" y="487.9" font-size="19.6" text-anchor="start" fill="#111" stroke="#111" stroke-width="0.4">0.05</text>
<line x1="711.9" y1="530" x2="715.4" y2="530" stroke="#ec4444" stroke-width="1.2"/>
<text x="720.9" y="535.4" font-size="19.6" text-anchor="start" fill="#111" stroke="#111" stroke-width="0.4">0.04</text>
<line x1="711.9" y1="577.5" x2="715.4" y2="577.5" stroke="#ec4444" stroke-width="1.2"/>
<text x="720.9" y="582.9" font-size="19.6" text-anchor="start" fill="#111" stroke="#111" stroke-width="0.4">0.03</text>
<line x1="711.9" y1="625" x2="715.4" y2="625" stroke="#ec4444" stroke-width="1.2"/>
<text x="720.9" y="630.4" font-size="19.6" text-anchor="start" fill="#111" stroke="#111" stroke-width="0.4">0.02</text>
<line x1="711.9" y1="672.5" x2="715.4" y2="672.5" stroke="#ec4444" stroke-width="1.2"/>
<text x="720.9" y="677.9" font-size="19.6" text-anchor="start" fill="#111" stroke="#111" stroke-width="0.4">0.01</text>
<line x1="711.9" y1="720" x2="715.4" y2="720" stroke="#ec4444" stroke-width="1.2"/>
<text x="720.9" y="725.4" font-size="19.6" text-anchor="start" fill="#111" stroke="#111" stroke-width="0.4">0.00</text>
<line x1="713.4" y1="506.25" x2="715.4" y2="506.25" stroke="#ec4444" stroke-width="1.1"/>
<line x1="713.4" y1="553.75" x2="715.4" y2="553.75" stroke="#ec4444" stroke-width="1.1"/>
<line x1="713.4" y1="601.25" x2="715.4" y2="601.25" stroke="#ec4444" stroke-width="1.1"/>
<line x1="713.4" y1="648.75" x2="715.4" y2="648.75" stroke="#ec4444" stroke-width="1.1"/>
<line x1="713.4" y1="696.25" x2="715.4" y2="696.25" stroke="#ec4444" stroke-width="1.1"/>
<line x1="713.4" y1="743" x2="715.4" y2="743" stroke="#ec4444" stroke-width="1.1"/>
<text x="271.6" y="446.8" font-size="37.6" text-anchor="start" fill="#111" stroke="#111" stroke-width="0.4">(c)</text>
<text x="544.25" y="799.2" font-size="25.3" text-anchor="middle" fill="#111" stroke="#111" stroke-width="0.4">Time (sec)</text>
<text transform="translate(303.5 611) rotate(-90)" font-size="25" text-anchor="middle" fill="#111" stroke="#111" stroke-width="0.4">Sensitivity (ΔG/G<tspan font-size="15" dy="7.5">0</tspan><tspan dy="-7.5">)</tspan></text>
<line x1="371" y1="477" x2="410.8" y2="477" stroke="#333" stroke-width="1.5"/>
<text x="417.8" y="483.9" font-size="18.95" text-anchor="start" fill="#111" stroke="#111" stroke-width="0.4">BNP sensing w/ BSA</text>
<line x1="371" y1="498.2" x2="410.8" y2="498.2" stroke="#e0222e" stroke-width="1.5" stroke-dasharray="5 3.5"/>
<text x="417.8" y="505.2" font-size="18.95" text-anchor="start" fill="#111" stroke="#111" stroke-width="0.4">BNP sensing w/ other markers</text>
<line x1="545" y1="595.6" x2="499.24" y2="595.6" stroke="#111" stroke-width="2"/>
<polygon points="491,595.6 501.3,592.3 501.3,598.9" fill="#111"/>
<line x1="653.5" y1="605.6" x2="693.76" y2="605.6" stroke="#e01b1b" stroke-width="2"/>
<polygon points="702,605.6 691.7,602.3 691.7,608.9" fill="#e01b1b"/>
<text x="381" y="675" font-size="17.6" text-anchor="middle" fill="#2216d6" stroke="#2216d6" stroke-width="0.4" style="stroke-width:0.45">a</text>
<text x="455.5" y="666.25" font-size="17.6" text-anchor="middle" fill="#2216d6" stroke="#2216d6" stroke-width="0.4" style="stroke-width:0.45">b</text>
<text x="535.75" y="688" font-size="17.6" text-anchor="middle" fill="#2216d6" stroke="#2216d6" stroke-width="0.4" style="stroke-width:0.45">c</text>
<text x="624" y="540" font-size="17.6" text-anchor="middle" fill="#2216d6" stroke="#2216d6" stroke-width="0.4" style="stroke-width:0.45">d</text>
<text x="382.25" y="739.2" font-size="17.6" text-anchor="middle" fill="#2216d6" stroke="#2216d6" stroke-width="0.4" style="stroke-width:0.45">e</text>
<text x="418.5" y="739" font-size="17.6" text-anchor="middle" fill="#2216d6" stroke="#2216d6" stroke-width="0.4" style="stroke-width:0.45">f</text>
<text x="484.75" y="738.3" font-size="17.6" text-anchor="middle" fill="#2216d6" stroke="#2216d6" stroke-width="0.4" style="stroke-width:0.45">g</text>
<text x="567" y="740.5" font-size="17.6" text-anchor="middle" fill="#2216d6" stroke="#2216d6" stroke-width="0.4" style="stroke-width:0.45">h</text>
<text x="646.25" y="741.5" font-size="17.6" text-anchor="middle" fill="#2216d6" stroke="#2216d6" stroke-width="0.4" style="stroke-width:0.45">i</text>
<path d="M363.5 719.11 L364.39 720.7 L365.37 722.02 L366.18 720.22 L366.89 720.87 L367.88 719.88 L368.39 723.25 L369.43 720.84 L370.12 720.58 L371.21 720.22 L372.21 718.24 L372.98 720.68 L373.77 719.85 L374.81 719.01 L375.42 723.22 L376.38 721.59 L377.33 718.86 L378.34 718.53 L379.39 720 L380.16 719.57 L380.88 719.24 L381.82 722.36 L382.62 720.61 L383.24 720.83 L384.12 719.52 L384.82 721.84 L385.68 719.94 L386.21 722.09 L386.93 721.31 L387.98 722.12 L389.09 722.54 L390.14 720.42 L390.78 721.43 L391.3 722.12 L392.09 721.18 L392.74 719.7 L393.33 719.04 L394.38 723.06 L395.17 718.98 L395.98 720.99 L396.6 722.41 L397.64 720.95 L398.5 721.72 L399.32 719.39 L399.8 721.75 L400.3 721.02 L401.32 720.71 L402.06 723.13 L402.63 719.39 L403.13 720.13 L404.16 720.53 L404.99 719.34 L405.61 719.1 L406.33 720.83 L406.84 721.09 L407.81 720.3 L408.59 717.33 L409.18 720.24 L410.11 719.13 L410.84 718.29 L411.51 719.37 L412.59 717.4 L413.4 720.65 L414.08 719.96 L414.91 716.6 L416.02 718.45 L417.14 717.97 L417.66 720.46 L418.43 718.95 L419.32 718.39 L420.05 718.28 L420.56 718.32 L421.49 720.07 L422.26 717.41 L423.06 719.11 L423.59 718.15 L424.53 720.37 L425.41 719.61 L426.44 719.44 L427.08 720.01 L427.95 720.63 L429.06 717.09 L429.74 718.5 L430.58 717.5 L431.66 719.93 L432.21 721.37 L432.82 718.42 L433.74 717.95 L434.43 718.2 L435 720.25 L435.87 719.17 L436.95 720.11 L437.82 719.88 L438.55 720.02 L439.64 718.32 L440.72 721.4 L441.52 718.88 L442.45 720.54 L443.28 719.71 L444.05 722.44 L444.62 722.69 L445.44 719.84 L446.17 721.21 L447.17 723.17 L448.21 718.9 L448.74 723.2 L449.71 720.44 L450.71 721.61 L451.49 722.13 L452.15 720.65 L453.03 721.98 L453.55 721.19 L454.15 720.66 L454.66 721.12 L455.55 720.36 L456.63 721.31 L457.55 722.14 L458.08 722.1 L458.59 720.55 L459.47 719.53 L460.27 719.26 L461.26 723.23 L461.88 722.88 L462.7 723.8 L463.43 723.95 L464.42 719.55 L465.29 721.82 L466.19 719.19 L467.01 722.34 L468.13 721.58 L469.08 722.63 L469.62 721.04 L470.44 722.42 L471 719.55 L471.86 719.05 L472.47 718.99 L473.29 723.08 L473.84 720.46 L474.73 722.91 L475.63 720.56 L476.35 721.5 L477.18 721.48 L478.18 722.08 L479.14 723.11 L479.86 721.46 L480.76 722.06 L481.88 720.86 L482.83 723.04 L483.35 721.06 L484.15 721.68 L485.03 722.35 L486.06 722.78 L486.7 723.46 L487.78 720.22 L488.83 720.61 L489.71 720.02 L490.36 722.63 L490.98 720.86 L491.92 720.69 L492.61 722.66 L493.21 721.4 L494.14 721.98 L495.18 722.52 L496.13 722.63 L496.93 723.93 L497.82 722.8 L498.52 723.56 L499.29 722.41" fill="none" stroke="#e0222e" stroke-width="1.7" stroke-dasharray="3.4 1.6" stroke-linejoin="round"/>
<path d="M500 723.55 L502.1 721.56 L503.6 722.41 L504.81 722.31 L506.35 721.91 L508.22 722.22 L510.12 722.22 L512.08 722.53 L513.84 723.05 L515.77 722.07 L517.58 722.13 L519.14 722.74 L520.68 722.47 L521.86 721.88 L523.08 721.94 L524.09 721.89 L526.1 722.09 L527.42 721.9 L529.09 722.12 L531.05 722.89 L532.32 722.51 L534.03 722.91 L536.24 721.7 L537.23 723.1 L539.44 723.27 L541.09 723.58 L542.49 723.21 L543.7 721.74 L544.91 723.66 L546.15 721.76 L547.32 722.61 L548.61 722.31 L550.14 722.12 L552.14 723.4 L553.63 723.03 L555.41 722.2 L556.89 723.1 L558.55 722.92 L560.32 722.29 L562.35 721.97 L563.41 722.79 L564.67 722.8 L566.21 722.9 L567.65 723.06 L569.72 722.15 L570.9 722.73 L571.97 723.19 L573.81 722.95 L575.44 722.38 L576.51 723.88 L578.11 723.56 L579.84 722.7 L581.25 722.49 L582.65 722.87 L584.65 723.05 L585.94 722.9 L587.18 722.55 L588.78 722.5 L589.9 723.31 L591.96 722.64 L593.23 724.26 L594.25 723.7 L595.67 722.44 L596.75 723.71 L598.58 723.17 L600.71 723.63 L602.92 724.09 L603.9 723.8 L605.8 723.75 L607.49 724.61 L609.22 724.2 L610.35 723.13 L611.57 724.14 L613.33 724.45 L614.85 724.19 L616.76 725.22 L618.85 726.1 L619.98 724.57 L622 724.27 L623.89 725.59 L625.12 725.09 L626.48 725.07 L628.2 725.23 L629.56 725.71 L630.74 726.11 L632.94 725.68 L634.45 725.98 L636.66 726.08 L637.71 726.41 L639.15 725.57 L640.61 726.96 L642.48 725.73 L643.66 725.36 L645.37 724.78 L646.49 723.25 L647.63 723.45" fill="none" stroke="#e0222e" stroke-width="1.45" stroke-dasharray="4.4 3.6" stroke-linejoin="round"/>
<path d="M650 531.24 L650.5 531.13 L651.05 530.31 L652.1 528.36 L652.79 529.51 L653.7 530.06 L654.22 529.52 L654.89 526.89 L655.75 529.17 L656.84 527.3 L657.71 525.66 L658.39 527.45 L659.29 524.54 L660.2 524.98 L661.02 523.13 L661.82 524.63 L662.73 525.02 L663.44 524.24 L664.31 524.29 L665.22 524.36 L666.33 524.12 L667.07 526.32 L667.88 524.55 L668.93 523.91 L669.64 524.56 L670.24 523.75 L671.23 525.53 L672.15 524.37 L673.16 526.76 L674.18 525.89 L675.04 527.77 L675.82 526.96 L676.53 527.44 L677.4 527.03 L678.2 526.73 L678.79 526.88 L679.44 524.49 L680.14 525.62 L680.79 526.93 L681.44 525.2 L682.06 525.69 L683.13 526.6 L683.85 526.57 L684.46 526.06 L685.42 526.6 L686.06 525.44 L686.58 526.03 L687.63 525.5 L688.43 525.1 L689.22 522.97 L689.7 524.96 L690.73 523.23 L691.3 523.13 L692.3 522.15 L693.19 521.73 L694.24 522.5 L695.26 521.89 L695.92 520.27 L696.73 521.85 L697.83 519.84 L698.87 521.01 L699.77 519.76 L700.28 519.99 L701.09 520.89 L701.93 521.1 L702.75 520.25 L703.84 520.45 L704.84 519.08 L705.44 519.59 L706.5 519.13 L707.45 518.52 L708.54 519.88 L709.53 519.12 L710.19 518.3 L711.26 518.43 L711.94 518.17 L712.64 518.81 L713.38 519.67 L714.06 520.84" fill="none" stroke="#e0222e" stroke-width="1.6" stroke-dasharray="3.2 2.0" stroke-linejoin="round"/>
<path d="M649.2 724 L649.2 532" fill="none" stroke="#e0222e" stroke-width="1.45" stroke-dasharray="4.4 4.2" stroke-linejoin="round"/>
<path d="M503 722.69 L505.24 721.96" fill="none" stroke="#e0222e" stroke-width="1.8" stroke-linejoin="round"/>
<path d="M506.28 722.69 L508.32 721.87" fill="none" stroke="#e0222e" stroke-width="1.8" stroke-linejoin="round"/>
<path d="M509.66 723.19 L512.24 722.37" fill="none" stroke="#e0222e" stroke-width="1.8" stroke-linejoin="round"/>
<path d="M522 722.57 L524.04 721.54" fill="none" stroke="#e0222e" stroke-width="1.8" stroke-linejoin="round"/>
<path d="M525.12 722.98 L526.92 721.54" fill="none" stroke="#e0222e" stroke-width="1.8" stroke-linejoin="round"/>
<path d="M527.73 722.82 L530.55 721.05" fill="none" stroke="#e0222e" stroke-width="1.8" stroke-linejoin="round"/>
<path d="M530.83 722.4 L533.41 721.08" fill="none" stroke="#e0222e" stroke-width="1.8" stroke-linejoin="round"/>
<path d="M532.94 722.98 L535.63 722.02" fill="none" stroke="#e0222e" stroke-width="1.8" stroke-linejoin="round"/>
<path d="M566 721.61 L568.66 723.31" fill="none" stroke="#e0222e" stroke-width="1.8" stroke-linejoin="round"/>
<path d="M568.31 721.73 L571.08 723.51" fill="none" stroke="#e0222e" stroke-width="1.8" stroke-linejoin="round"/>
<path d="M570.5 721.51 L572.79 723.29" fill="none" stroke="#e0222e" stroke-width="1.8" stroke-linejoin="round"/>
<path d="M573.71 721.51 L576.52 723.16" fill="none" stroke="#e0222e" stroke-width="1.8" stroke-linejoin="round"/>
<path d="M576.49 721.64 L578.76 723.05" fill="none" stroke="#e0222e" stroke-width="1.8" stroke-linejoin="round"/>
<path d="M578.5 721.65 L580.7 723.39" fill="none" stroke="#e0222e" stroke-width="1.8" stroke-linejoin="round"/>
<path d="M590 722.23 L592.47 724.07" fill="none" stroke="#e0222e" stroke-width="1.8" stroke-linejoin="round"/>
<path d="M593.36 721.63 L595.94 723.89" fill="none" stroke="#e0222e" stroke-width="1.8" stroke-linejoin="round"/>
<path d="M596.05 722.11 L598.15 723.68" fill="none" stroke="#e0222e" stroke-width="1.8" stroke-linejoin="round"/>
<path d="M612 724.03 L614.79 725.7" fill="none" stroke="#e0222e" stroke-width="1.8" stroke-linejoin="round"/>
<path d="M615.07 724.48 L617.63 725.87" fill="none" stroke="#e0222e" stroke-width="1.8" stroke-linejoin="round"/>
<path d="M618 723.95 L620.17 725.84" fill="none" stroke="#e0222e" stroke-width="1.8" stroke-linejoin="round"/>
<path d="M620.42 723.71 L623.22 725.57" fill="none" stroke="#e0222e" stroke-width="1.8" stroke-linejoin="round"/>
<path d="M622.85 723 L625.6 725.11" fill="none" stroke="#e0222e" stroke-width="1.8" stroke-linejoin="round"/>
<path d="M625.28 724.53 L627.17 725.64" fill="none" stroke="#e0222e" stroke-width="1.8" stroke-linejoin="round"/>
<path d="M627.54 723.79 L629.57 725.23" fill="none" stroke="#e0222e" stroke-width="1.8" stroke-linejoin="round"/>
<path d="M629.58 723.17 L631.61 725.17" fill="none" stroke="#e0222e" stroke-width="1.8" stroke-linejoin="round"/>
<path d="M636 727.39 L638.6 725.63" fill="none" stroke="#e0222e" stroke-width="1.8" stroke-linejoin="round"/>
<path d="M639.14 727.3 L640.68 724.94" fill="none" stroke="#e0222e" stroke-width="1.8" stroke-linejoin="round"/>
<path d="M641.91 727.18 L643.92 725.54" fill="none" stroke="#e0222e" stroke-width="1.8" stroke-linejoin="round"/>
<path d="M360.69 686.41 L366.55 686.41 L366.55 686.41 L367.12 686.41 L367.12 694.26 L367.12 686.41 L368.27 686.41 L368.27 694.26 L368.27 686.41 L369.42 686.41 L369.42 694.26 L369.42 686.41 L370.57 686.41 L370.57 694.26 L370.57 686.41 L371.72 686.41 L371.72 694.26 L371.72 686.41 L372.41 686.41 L372.41 686.41 L373.51 686.41 L373.51 694.26 L373.51 686.41 L375.34 686.41 L375.34 694.26 L376.64 694.26 L376.64 686.41 L376.64 694.26 L378.85 694.26 L378.85 694.26 L379.79 694.26 L379.79 694.26 L380.06 694.26 L380.06 701.88 L380.06 694.26 L380.61 694.26 L380.61 701.88 L380.61 694.26 L381.16 694.26 L381.16 701.88 L381.16 694.26 L381.2 694.26 L381.2 694.26 L385.3 694.26 L385.3 694.26 L385.92 694.26 L385.92 686.41 L385.92 694.26 L387.17 694.26 L387.17 686.41 L387.17 694.26 L388.42 694.26 L388.42 686.41 L388.42 694.26 L389.67 694.26 L389.67 686.41 L389.67 694.26 L390.92 694.26 L390.92 686.41 L390.92 694.26 L392.17 694.26 L392.17 686.41 L392.17 694.26 L393.42 694.26 L393.42 686.41 L393.42 694.26 L394.67 694.26 L394.67 686.41 L394.67 694.26 L395.92 694.26 L395.92 686.41 L395.92 694.26 L397.17 694.26 L397.17 686.41 L397.17 694.26 L397.6 694.26 L397.6 686.41 L409.32 686.41 L409.32 686.41 L409.77 686.41 L409.77 679.61 L409.77 686.41 L410.67 686.41 L410.67 679.61 L410.67 686.41 L411.57 686.41 L411.57 679.61 L411.57 686.41 L412.47 686.41 L412.47 679.61 L412.47 686.41 L413.37 686.41 L413.37 679.61 L413.37 686.41 L413.42 686.41 L413.42 686.41 L428.66 686.41 L428.66 686.41 L429.11 686.41 L429.11 679.61 L429.11 686.41 L430.01 686.41 L430.01 679.61 L430.01 686.41 L430.91 686.41 L430.91 679.61 L430.91 686.41 L431 686.41 L431 686.41 L434.87 686.41 L434.87 686.41 L435.17 686.41 L435.17 694.26 L435.17 686.41 L435.77 686.41 L435.77 694.26 L435.77 686.41 L436.28 686.41 L436.28 686.41 L438.03 686.41 L438.03 679.61 L439.21 679.61 L439.21 686.41 L439.21 679.61 L440.38 679.61 L440.38 679.61 L440.93 679.61 L440.93 686.41 L440.93 679.61 L442.03 679.61 L442.03 686.41 L442.03 679.61 L443.13 679.61 L443.13 686.41 L443.13 679.61 L443.31 679.61 L443.31 679.61 L444.91 679.61 L444.91 686.41 L444.91 679.61 L446.82 679.61 L446.82 679.61 L447.42 679.61 L447.42 686.41 L447.42 679.61 L448.62 679.61 L448.62 686.41 L448.62 679.61 L449.75 679.61 L449.75 679.61 L450.63 679.61 L450.63 686.41 L450.63 679.61 L451.51 679.61 L451.51 679.61 L452.16 679.61 L452.16 686.41 L452.16 679.61 L453.46 679.61 L453.46 686.41 L453.46 679.61 L453.86 679.61 L453.86 679.61 L455.73 679.61 L455.73 679.61 L456.03 679.61 L456.03 686.41 L456.03 679.61 L456.63 679.61 L456.63 686.41 L456.63 679.61 L456.79 679.61 L456.79 686.41 L458.19 686.41 L458.19 694.26 L463.23 694.26 L463.23 694.26 L463.78 694.26 L463.78 701.88 L463.78 694.26 L464.88 694.26 L464.88 701.88 L464.88 694.26 L465.98 694.26 L465.98 701.88 L465.98 694.26 L467.08 694.26 L467.08 701.88 L467.08 694.26 L467.92 694.26 L467.92 701.88 L469.09 701.88 L469.09 694.26 L469.09 701.88 L470.26 701.88 L470.26 694.26 L470.86 694.26 L470.86 701.88 L470.86 694.26 L472.06 694.26 L472.06 701.88 L472.06 694.26 L473.26 694.26 L473.26 701.88 L473.26 694.26 L473.78 694.26 L473.78 701.88 L476 701.88 L476 701.88 L476.55 701.88 L476.55 694.26 L476.55 701.88 L477.65 701.88 L477.65 694.26 L477.65 701.88 L478.75 701.88 L478.75 694.26 L478.75 701.88 L479.85 701.88 L479.85 694.26 L479.85 701.88 L480.95 701.88 L480.95 694.26 L480.95 701.88 L481.27 701.88 L481.27 701.88 L482.52 701.88 L482.52 694.26 L482.52 701.88 L485.02 701.88 L485.02 694.26 L485.02 701.88 L487.52 701.88 L487.52 694.26 L487.52 701.88 L487.72 701.88 L487.72 701.88 L501.78 701.88 L501.78 701.88 L502.36 701.88 L502.36 694.26 L502.36 701.88 L503.51 701.88 L503.51 694.26 L503.51 701.88 L504.66 701.88 L504.66 694.26 L504.66 701.88 L505.81 701.88 L505.81 694.26 L505.81 701.88 L506.96 701.88 L506.96 694.26 L506.96 701.88 L508.11 701.88 L508.11 694.26 L508.11 701.88 L509.26 701.88 L509.26 694.26 L509.26 701.88 L509.4 701.88 L509.4 701.88 L510.35 701.88 L510.35 694.26 L510.35 701.88 L512.25 701.88 L512.25 694.26 L512.25 701.88 L514.09 701.88 L514.09 701.88 L524.63 701.88 L524.63 701.88 L525.73 701.88 L525.73 694.26 L525.73 701.88 L527.93 701.88 L527.93 694.26 L527.93 701.88 L528.74 701.88 L528.74 701.88 L533.42 701.88 L533.42 701.88 L533.87 701.88 L533.87 694.26 L533.87 701.88 L534.77 701.88 L534.77 694.26 L534.77 701.88 L534.83 701.88 L534.83 701.88 L541.98 701.88 L541.98 701.88 L542.33 701.88 L542.33 709.49 L542.33 701.88 L543.03 701.88 L543.03 709.49 L543.03 701.88 L543.73 701.88 L543.73 709.49 L543.73 701.88 L544.43 701.88 L544.43 709.49 L544.43 701.88 L544.56 701.88 L544.56 701.88 L547.25 701.88 L547.38 566.62 L556.7 566.62 L556.7 566.62 L557.05 566.62 L557.05 559.06 L557.05 566.62 L557.75 566.62 L557.75 559.06 L557.75 566.62 L558.28 566.62 L558.28 566.62 L569 566.62 L569 566.62 L569.4 566.62 L569.4 559.06 L569.4 566.62 L570.2 566.62 L570.2 559.06 L570.2 566.62 L571 566.62 L571 559.06 L571 566.62 L571.8 566.62 L571.8 559.06 L571.8 566.62 L572.52 566.62 L572.52 559.06 L572.92 559.06 L572.92 551.33 L572.92 559.06 L573.72 559.06 L573.72 551.33 L573.72 559.06 L574.52 559.06 L574.52 551.33 L574.52 559.06 L575.32 559.06 L575.32 551.33 L575.32 559.06 L576.12 559.06 L576.12 551.33 L576.12 559.06 L576.92 559.06 L576.92 551.33 L576.92 559.06 L577.72 559.06 L577.72 551.33 L577.72 559.06 L577.79 559.06 L577.79 559.06 L584.65 559.06 L584.65 559.06 L585.05 559.06 L585.05 551.33 L585.05 559.06 L585.85 559.06 L585.85 551.33 L585.85 559.06 L586.65 559.06 L586.65 551.33 L586.65 559.06 L587.11 559.06 L587.11 559.06 L592.73 559.06 L592.73 559.06 L593.13 559.06 L593.13 551.33 L593.13 559.06 L593.93 559.06 L593.93 551.33 L593.93 559.06 L594.73 559.06 L594.73 551.33 L594.73 559.06 L595.53 559.06 L595.53 551.33 L595.53 559.06 L596.25 559.06 L596.25 559.06 L605.04 559.06 L605.04 559.06 L605.89 559.06 L605.89 551.33 L605.89 559.06 L607.59 559.06 L607.59 551.33 L607.59 559.06 L609.29 559.06 L609.29 551.33 L609.29 559.06 L610.99 559.06 L610.99 551.33 L610.99 559.06 L611.19 559.06 L611.19 551.33 L613.84 551.33 L613.84 559.06 L613.84 551.33 L619.14 551.33 L619.14 559.06 L619.14 551.33 L622.62 551.33 L622.62 551.33 L631.76 551.33 L631.76 551.33 L633.86 551.33 L633.86 559.06 L633.86 551.33 L637.56 551.33 L637.56 484.88 L638.44 484.88 L638.44 484.88 L638.84 484.88 L638.84 477.5 L638.84 484.88 L639.64 484.88 L639.64 477.5 L639.64 484.88 L640.44 484.88 L640.44 477.5 L640.44 484.88 L641.24 484.88 L641.24 477.5 L641.24 484.88 L642.04 484.88 L642.04 477.5 L642.04 484.88 L642.84 484.88 L642.84 477.5 L642.84 484.88 L643.64 484.88 L643.64 477.5 L643.64 484.88 L644.44 484.88 L644.44 477.5 L644.44 484.88 L645.24 484.88 L645.24 477.5 L645.24 484.88 L646.04 484.88 L646.04 477.5 L646.04 484.88 L646.84 484.88 L646.84 477.5 L646.84 484.88 L647.64 484.88 L647.64 477.5 L647.64 484.88 L648.44 484.88 L648.44 477.5 L648.44 484.88 L648.98 484.88 L648.98 477.5 L674.47 477.5 L674.47 469.94 L676.23 469.94 L676.23 469.94 L676.83 469.94 L676.83 477.5 L676.83 469.94 L678.03 469.94 L678.03 477.5 L678.03 469.94 L679.23 469.94 L679.23 477.5 L679.23 469.94 L680.43 469.94 L680.43 477.5 L680.43 469.94 L681.63 469.94 L681.63 477.5 L681.63 469.94 L682.38 469.94 L682.38 469.94 L684.18 469.94 L684.18 477.5 L684.18 469.94 L687.78 469.94 L687.78 477.5 L687.78 469.94 L691.38 469.94 L691.38 477.5 L691.38 469.94 L694.98 469.94 L694.98 477.5 L694.98 469.94 L698.58 469.94 L698.58 477.5 L698.58 469.94 L699.61 469.94 L699.61 477.5 L711.38 477.5 L711.38 477.5 L712.63 477.5 L712.63 469.94 L712.63 477.5 L714.02 477.5 L714.02 477.5 L715.07 477.5" fill="none" stroke="#1c1c1c" stroke-width="1.5" stroke-linejoin="round"/>
</g>
</svg>
</body></html>
